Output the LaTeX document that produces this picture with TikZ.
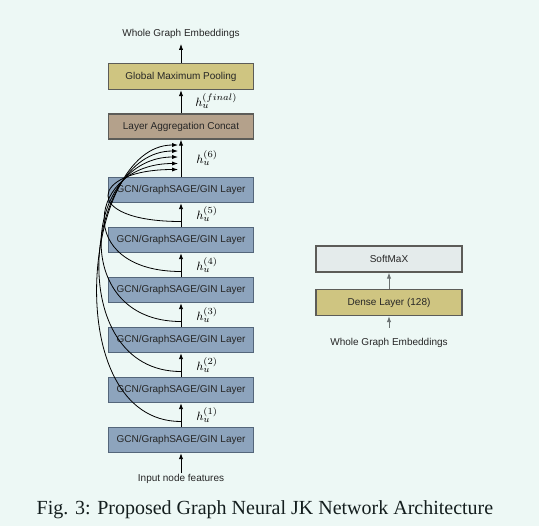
\documentclass[tikz,border=0pt]{standalone}
\usepackage{fontspec}
\setmainfont{Liberation Serif}
\setsansfont{Liberation Sans}
\usetikzlibrary{arrows.meta}

\definecolor{bgmint}{RGB}{237,248,245}
\definecolor{layerblue}{RGB}{141,164,189}
\definecolor{layeredge}{RGB}{84,102,122}
\definecolor{poolkhaki}{RGB}{207,197,129}
\definecolor{concatbrown}{RGB}{180,161,139}
\definecolor{softgray}{RGB}{228,235,235}
\definecolor{boxedge}{RGB}{92,92,88}
\definecolor{arrgray}{RGB}{105,112,112}

\tikzset{
  blk/.style={draw=boxedge, line width=0.9pt, minimum width=108.75pt, minimum height=18.75pt, inner sep=0pt, font=\sffamily\fontsize{7.5}{9}\selectfont, text=black!85},
  gcn/.style={blk, fill=layerblue, draw=layeredge},
  lbl/.style={inner sep=0.75pt, font=\sffamily\fontsize{7.5}{9}\selectfont, text=black!85},
  hlab/.style={anchor=west, inner sep=0pt, font=\fontsize{9.5}{11}\selectfont},
  arr/.style={-{Latex[length=4.5pt,width=3.2pt]}, line width=0.6pt},
}

\begin{document}
\begin{tikzpicture}[x=0.75pt,y=0.75pt,yscale=-1,xscale=1]
%set diagram left start at 0, and has height of 526
\fill [bgmint] (0,0) rectangle (539,526);
\useasboundingbox (0,0) rectangle (539,526);

%Shape: Rectangle
\node [gcn] (l1) at (181,440) {GCN/GraphSAGE/GIN Layer};
\node [gcn] (l2) at (181,390) {GCN/GraphSAGE/GIN Layer};
\node [gcn] (l3) at (181,340) {GCN/GraphSAGE/GIN Layer};
\node [gcn] (l4) at (181,290) {GCN/GraphSAGE/GIN Layer};
\node [gcn] (l5) at (181,240) {GCN/GraphSAGE/GIN Layer};
\node [gcn] (l6) at (181,190) {GCN/GraphSAGE/GIN Layer};
%Shape: Rectangle
\node [blk, fill=concatbrown] (concat) at (181,126.5) {Layer Aggregation Concat};
\node [blk, fill=poolkhaki, minimum height=19.5pt] (pool) at (181,76.5) {Global Maximum Pooling};
%Shape: Rectangle
\node [blk, fill=poolkhaki, minimum width=109.5pt, minimum height=19.5pt] (dense) at (389,302.5) {Dense Layer (128)};
\node [blk, fill=softgray, minimum width=109.5pt, minimum height=19.5pt] (soft) at (389,259) {SoftMaX};

% Text Node
\node [lbl] (inp) at (181,479) {Input node features};
\node [lbl] (wge) at (181,34) {Whole Graph Embeddings};
\node [lbl] (wge2) at (389,343) {Whole Graph Embeddings};

%Straight Lines
\draw [arr] (inp) -- (l1);
\draw [arr] (l1) -- (l2);
\draw [arr] (l2) -- (l3);
\draw [arr] (l3) -- (l4);
\draw [arr] (l4) -- (l5);
\draw [arr] (l5) -- (l6);
\draw [arr] (l6) -- (concat);
\draw [arr] (concat) -- (pool);
\draw [arr, shorten >=3pt] (pool) -- (wge);
%Straight Lines
\draw [arr, arrgray, shorten <=7pt] (wge2) -- (dense);
\draw [arr, arrgray] (dense) -- (soft);

%Curve Lines
\coordinate (s1) at (181,421.5);
\coordinate (s2) at (181,371.5);
\coordinate (s3) at (181,321.5);
\coordinate (s4) at (181,271.5);
\coordinate (s5) at (181,221.5);
\coordinate (e1) at (178,145);
\coordinate (e2) at (178,151);
\coordinate (e3) at (178,157);
\coordinate (e4) at (178,163.5);
\coordinate (e5) at (178,169.5);
\draw [arr] (s1) .. controls (58,421.5) and (82,145) .. (e1);
\draw [arr] (s2) .. controls (62,371.5) and (84,151) .. (e2);
\draw [arr] (s3) .. controls (66,321.5) and (86,157) .. (e3);
\draw [arr] (s4) .. controls (72,271.5) and (88,163.5) .. (e4);
\draw [arr] (s5) .. controls (80,221.5) and (90,169.5) .. (e5);

% Text Node
\node [hlab] (h1) at (196,415) {$h_u^{(1)}$};
\node [hlab] (h2) at (196,365) {$h_u^{(2)}$};
\node [hlab] (h3) at (196,315) {$h_u^{(3)}$};
\node [hlab] (h4) at (196,265) {$h_u^{(4)}$};
\node [hlab] (h5) at (196,214) {$h_u^{(5)}$};
\node [hlab] (h6) at (196,158) {$h_u^{(6)}$};
\node [hlab] (hf) at (195,101) {$h_u^{(final)}$};

% Text Node
\node [anchor=base, inner sep=0pt, font=\fontsize{15}{18}\selectfont, text={rgb,255:red,20;green,30;blue,30}] (cap) at (265,514) {Fig. 3: Proposed Graph Neural JK Network Architecture};

\end{tikzpicture}
\end{document}
